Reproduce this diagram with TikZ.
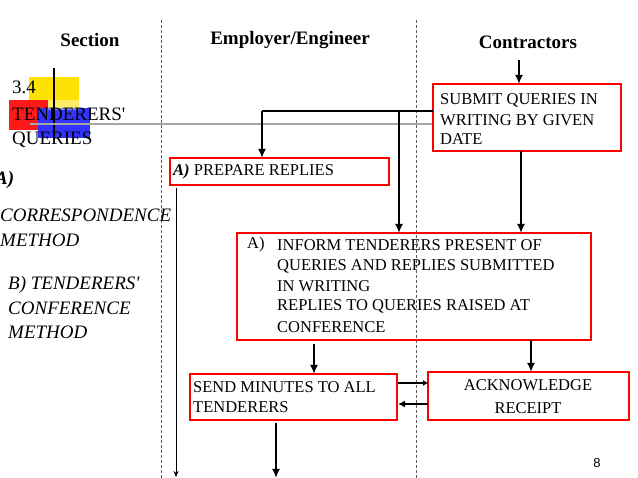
\documentclass[tikz,border=0pt]{standalone}
\usepackage{fontspec}
\usetikzlibrary{arrows.meta}
\setmainfont{Liberation Serif}
\newfontfamily\numfont{Liberation Sans}
\begin{document}
\begin{tikzpicture}[x=1pt,y=-1pt,
  redbox/.style={draw=red,line width=2.4pt,inner sep=0pt},
  txt/.style={font=\fontsize{16.5}{18}\selectfont,anchor=west,inner sep=0pt},
  hdr/.style={font=\fontsize{19}{21}\selectfont\bfseries,inner sep=0pt},
  side/.style={font=\fontsize{19}{21}\selectfont\itshape,anchor=west,inner sep=0pt},
  arr/.style={line width=2pt,-{Latex[length=9pt,width=8pt]}},
  thinarr/.style={line width=0.6pt,-{Stealth[length=6pt,width=5pt]}}]
\useasboundingbox (0,0) rectangle (638,478);
\fill[white] (0,0) rectangle (638,478);
% dashed dividers
\draw[dash pattern=on 3pt off 2pt,gray!70!black,line width=0.8pt] (161,20) -- (161,478);
\draw[dash pattern=on 3pt off 2pt,gray!70!black,line width=0.8pt] (416,20) -- (416,478);
% headers
\node[hdr] (h1) at (90,40) {Section};
\node[hdr] (h2) at (290,40) {Employer/Engineer};
\node[hdr] (h3) at (528,42) {Contractors};
% decoration
\fill[yellow!85!orange] (29,77) rectangle (79,110);
\fill[red!90] (9,100) rectangle (48,130);
\fill[blue!80] (38,108) rectangle (90,138);
\fill[white,opacity=0.4] (48,100) rectangle (79,110);
\draw[line width=1.4pt] (54,68) -- (54,140);
\draw[gray!70,line width=1.4pt] (30,124) -- (432,124);
\node[txt,font=\fontsize{19}{21}\selectfont] (s1) at (12,87) {3.4};
\node[txt,font=\fontsize{19}{21}\selectfont] (s2) at (12,114) {TENDERERS\textquotesingle};
\node[txt,font=\fontsize{19}{21}\selectfont] (s3) at (12,140) {QUERIES};
\node[side,font=\fontsize{19}{21}\selectfont\bfseries\itshape] (la) at (-5,180) {A)};
\node[side] (lb) at (0,215) {CORRESPONDENCE};
\node[side] (lc) at (0,240) {METHOD};
\node[side] (ld) at (8,285) {B) TENDERERS\textquotesingle};
\node[side] (le) at (8,308) {CONFERENCE};
\node[side] (lf) at (8,332) {METHOD};
% boxes
\draw[redbox] (433,84) rectangle (621,151);
\node[txt] (q1) at (440,100) {SUBMIT QUERIES IN};
\node[txt] (q2) at (440,120) {WRITING BY GIVEN};
\node[txt] (q3) at (440,139) {DATE};
\draw[redbox] (170,158) rectangle (389,185);
\node[txt] (p1) at (173,172) {\textbf{\textit{A)}} PREPARE REPLIES};
\draw[redbox] (237,233) rectangle (591,340);
\node[txt] (i0) at (247,245) {A)};
\node[txt] (i1) at (277,245) {INFORM TENDERERS PRESENT OF};
\node[txt] (i2) at (277,266) {QUERIES AND REPLIES SUBMITTED};
\node[txt] (i3) at (277,286) {IN WRITING};
\node[txt] (i4) at (277,306) {REPLIES TO QUERIES RAISED AT};
\node[txt] (i5) at (277,327) {CONFERENCE};
\draw[redbox] (190,374) rectangle (397,420);
\node[txt] (m1) at (193,387) {SEND MINUTES TO ALL};
\node[txt] (m2) at (193,407) {TENDERERS};
\draw[redbox] (428,372) rectangle (629,420);
\node[txt,anchor=center] (a1) at (528,385) {ACKNOWLEDGE};
\node[txt,anchor=center] (a2) at (528,408) {RECEIPT};
% connectors
\coordinate (t0) at (519,60);
\coordinate (t1) at (519,84);
\draw[arr] (t0) -- (t1);
\coordinate (b0) at (433,111);
\coordinate (b1) at (262,111);
\coordinate (b2) at (262,158);
\draw[line width=2pt] (b0) -- (b1);
\draw[arr] (b1) -- (b2);
\coordinate (c0) at (399,111);
\coordinate (c1) at (399,233);
\draw[arr] (c0) -- (c1);
\coordinate (d0) at (521,151);
\coordinate (d1) at (521,233);
\draw[arr] (d0) -- (d1);
\coordinate (l0) at (176,188);
\coordinate (l1) at (176,477);
\draw[thinarr] (l0) -- (l1);
\coordinate (e0) at (314,344);
\coordinate (e1) at (314,374);
\draw[arr] (e0) -- (e1);
\coordinate (f0) at (531,340);
\coordinate (f1) at (531,372);
\draw[arr] (f0) -- (f1);
\coordinate (g0) at (398,383);
\coordinate (g1) at (428,383);
\draw[line width=1.8pt,-{Latex[length=5pt,width=6pt]}] (g0) -- (g1);
\coordinate (k0) at (428,404);
\coordinate (k1) at (398,404);
\draw[line width=1.8pt,-{Latex[length=7pt,width=7pt]}] (k0) -- (k1);
\coordinate (n0) at (276,423);
\coordinate (n1) at (276,478);
\draw[arr] (n0) -- (n1);
\node[inner sep=0pt,font=\numfont\fontsize{13}{15}\selectfont] (pg) at (597,463) {8};
\end{tikzpicture}
\end{document}
